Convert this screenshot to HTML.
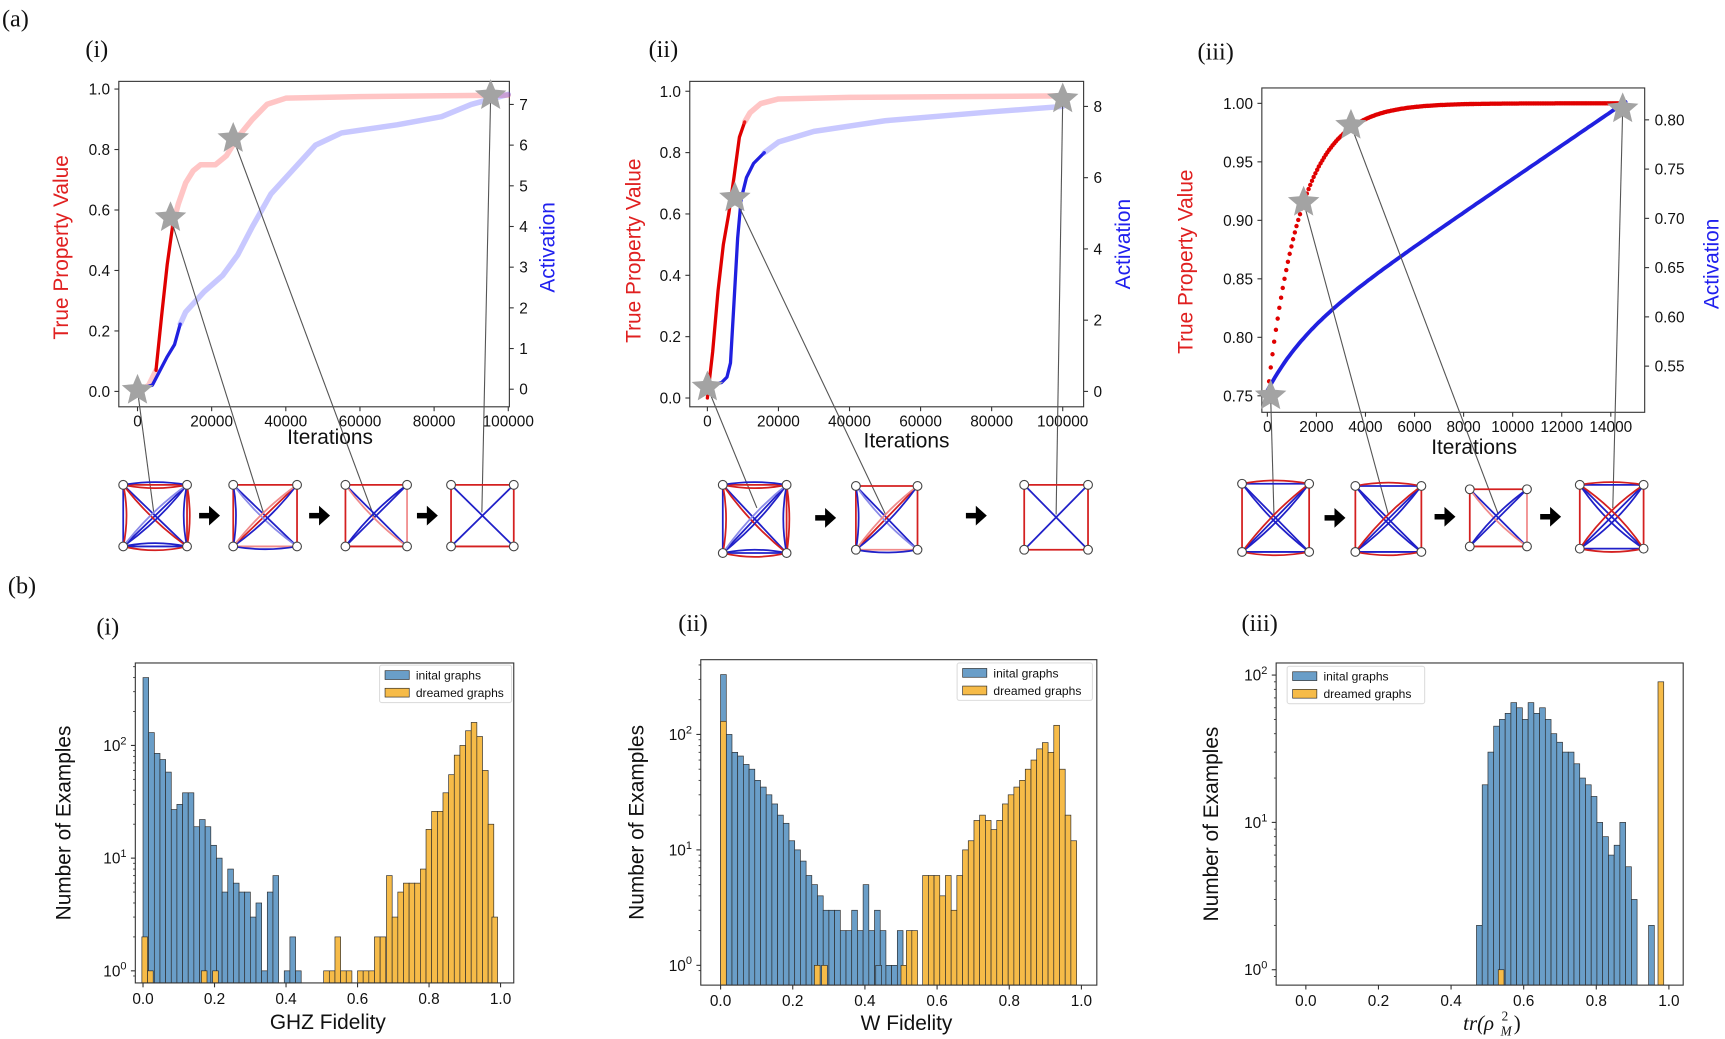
<!DOCTYPE html>
<html><head><meta charset="utf-8"><style>
html,body{margin:0;padding:0;background:#fff;overflow:hidden}
svg{display:block}
</style></head><body>
<div id="c"></div>
<script>
var S=[];
function P(s){S.push(s);}
var SANS='font-family="Liberation Sans, DejaVu Sans, sans-serif"';
var SERIF='font-family="Liberation Serif, serif"';
function txt(x,y,s,size,opt){opt=opt||{};P('<text x="'+x+'" y="'+y+'" font-size="'+size+'" '+(opt.serif?SERIF:SANS)+' fill="'+(opt.fill||'#111')+'" text-anchor="'+(opt.anchor||'middle')+'"'+(opt.rot?' transform="rotate(-90 '+x+' '+y+')"':'')+'>'+s+'</text>');}
function line(x1,y1,x2,y2,c,w,op){P('<line x1="'+x1+'" y1="'+y1+'" x2="'+x2+'" y2="'+y2+'" stroke="'+c+'" stroke-width="'+w+'"'+(op?' stroke-opacity="'+op+'"':'')+'/>');}
function box(x0,y0,x1,y1){P('<rect x="'+x0+'" y="'+y0+'" width="'+(x1-x0)+'" height="'+(y1-y0)+'" fill="none" stroke="#333" stroke-width="1"/>');}
function poly(pts,c,w,op){P('<polyline points="'+pts.map(function(p){return p[0].toFixed(1)+','+p[1].toFixed(1)}).join(' ')+'" fill="none" stroke="'+c+'" stroke-width="'+w+'" stroke-opacity="'+op+'" stroke-linejoin="round" stroke-linecap="round"/>');}
function star(cx,cy,r){var p=[];for(var i=0;i<10;i++){var a=-Math.PI/2+i*Math.PI/5;var rr=i%2?r*0.45:r;p.push((cx+rr*Math.cos(a)).toFixed(1)+','+(cy+rr*Math.sin(a)).toFixed(1));}P('<polygon points="'+p.join(' ')+'" fill="#a3a3a3"/>');}
function arrow(x,y){P('<rect x="'+(x-9)+'" y="'+(y-2.5)+'" width="10" height="5" fill="#000"/><polygon points="'+(x)+','+(y-9)+' '+(x+10)+','+y+' '+x+','+(y+9)+'" fill="#000"/>');}
function graph(x0,y0,x1,y1,k){
 var c=[[x0,y0],[x1,y0],[x0,y1],[x1,y1]];
 var R='#d42020',B='#2020c8',LR='#f08a8a',LB='#8a8ae8';
 function arc(a,b,off,col,w){var mx=(a[0]+b[0])/2,my=(a[1]+b[1])/2;var dx=b[0]-a[0],dy=b[1]-a[1];var L=Math.hypot(dx,dy);var nx=-dy/L,ny=dx/L;P('<path d="M'+a[0]+','+a[1]+' Q'+(mx+nx*off)+','+(my+ny*off)+' '+b[0]+','+b[1]+'" fill="none" stroke="'+col+'" stroke-width="'+w+'"/>');}
 var sets=[
  [[0,1,0,R],[0,1,6,R],[0,1,-5,B],[2,3,0,B],[2,3,7,R],[2,3,-6,B],[0,2,0,B],[0,2,-6,R],[1,3,0,R],[1,3,6,B],[1,3,-5,R],[0,3,0,B],[1,2,0,B],[0,3,6,R],[1,2,-6,B],[1,2,6,LB]],
  [[0,1,0,R],[2,3,0,LR],[2,3,5,B],[0,2,0,R],[0,2,-5,B],[1,3,0,R],[0,3,0,B],[1,2,0,R],[0,3,6,LB],[1,2,-6,B],[1,2,6,LR]],
  [[0,1,0,R],[2,3,0,R],[0,2,0,R],[1,3,0,LR],[0,3,0,B],[1,2,0,B],[0,3,6,LR],[1,2,6,B]],
  [[0,1,0,R],[2,3,0,R],[0,2,0,R],[1,3,0,R],[0,3,0,B],[1,2,0,B]],
  [[0,1,0,B],[2,3,0,B],[0,2,0,R],[1,3,0,R],[0,3,0,B],[1,2,0,B],[0,3,6,B],[1,2,-6,B],[1,2,6,R],[0,1,-6,R],[2,3,6,R]],
  [[0,1,0,B],[0,1,-5,R],[2,3,0,B],[2,3,6,R],[0,3,0,B],[1,2,0,B],[0,3,8,B],[1,2,-8,B],[1,2,8,R],[0,3,-8,R],[0,2,0,R],[1,3,0,R]]
 ][k];
 sets.forEach(function(e){arc(c[e[0]],c[e[1]],e[2],e[3],1.6);});
 c.forEach(function(p){P('<circle cx="'+p[0]+'" cy="'+p[1]+'" r="4" fill="#fff" stroke="#444" stroke-width="1"/>');});
}
function curve(pts,X,Y,c,w,op){poly(pts.map(function(p){return [X(p[0]),Y(p[1])]}),c,w,op);}

/* ===== (a)(i) ===== */
txt(14,24,'(a)',22,{serif:1});txt(88,52,'(i)',22,{serif:1});
(function(){
var X=function(t){return 125+0.00337*t},YL=function(v){return 356-275*v},YR=function(a){return 354-37*a};
box(108,74,463,370);
[0,0.2,0.4,0.6,0.8,1.0].forEach(function(v){line(104,YL(v),108,YL(v),'#333',1);txt(100,YL(v)+5,v.toFixed(1),14,{anchor:'end'});});
[0,1,2,3,4,5,6,7].forEach(function(a){line(463,YR(a),467,YR(a),'#333',1);txt(472,YR(a)+5,''+a,14,{anchor:'start'});});
[0,20000,40000,60000,80000,100000].forEach(function(t){line(X(t),370,X(t),374,'#333',1);txt(X(t),388,''+t,14);});
txt(300,404,'Iterations',19);
txt(62,225,'True Property Value',19,{rot:1,fill:'#e02020'});
txt(504,225,'Activation',19,{rot:1,fill:'#2020ee'});
curve([[0,0],[3000,0.02],[5000,0.07]],X,YL,'#ff6060',5,0.35);
curve([[5000,0.07],[6500,0.25],[8000,0.42],[9500,0.55]],X,YL,'#e00000',3,1);
curve([[9500,0.55],[11000,0.62],[13000,0.69],[15000,0.73],[17000,0.75],[21000,0.75],[24000,0.78],[27000,0.84],[31000,0.9],[35000,0.95],[40000,0.97],[60000,0.975],[100000,0.98]],X,YL,'#ff5a5a',5,0.35);
curve([[0,0],[4000,0.1],[8000,0.8],[10000,1.1],[11500,1.6]],X,YR,'#2020e0',3,1);
curve([[11500,1.6],[13000,1.9],[18000,2.4],[23000,2.8],[27000,3.3],[31000,4.0],[36000,4.8],[42000,5.4],[48000,6.0],[55000,6.3],[70000,6.5],[82000,6.7],[90000,7.0],[100000,7.25]],X,YR,'#4a4aff',5,0.3);
line(125,355,140,468,'#555',1);line(155,198,240,468,'#555',1);line(212,126,340,470,'#555',1);line(446,87,438,466,'#555',1);
star(125,355,15);star(155,198,15);star(212,126,15);star(446,87,15);
graph(112,441,170,497,0);arrow(190,469);graph(212,441,270,497,1);arrow(290,469);graph(314,441,370,497,2);arrow(388,469);graph(410,441,467,497,3);
})();

/* ===== (a)(ii) ===== */
txt(603,52,'(ii)',22,{serif:1});
(function(){
var X=function(t){return 643+0.00323*t},YL=function(v){return 362-279*v},YR=function(a){return 356-32.4*a};
box(627,74,985,370);
[0,0.2,0.4,0.6,0.8,1.0].forEach(function(v){line(623,YL(v),627,YL(v),'#333',1);txt(619,YL(v)+5,v.toFixed(1),14,{anchor:'end'});});
[0,2,4,6,8].forEach(function(a){line(985,YR(a),989,YR(a),'#333',1);txt(994,YR(a)+5,''+a,14,{anchor:'start'});});
[0,20000,40000,60000,80000,100000].forEach(function(t){line(X(t),370,X(t),374,'#333',1);txt(X(t),388,''+t,14);});
txt(824,407,'Iterations',19);
txt(582,228,'True Property Value',19,{rot:1,fill:'#e02020'});
txt(1027,222,'Activation',19,{rot:1,fill:'#2020ee'});
curve([[0,0],[1500,0.15],[3000,0.35],[4500,0.5],[6000,0.6],[7500,0.72],[9000,0.85],[10500,0.9]],X,YL,'#e00000',3,1);
curve([[10500,0.9],[12000,0.93],[15000,0.96],[20000,0.975],[40000,0.98],[100000,0.985]],X,YL,'#ff5a5a',5,0.35);
curve([[0,0.15],[4000,0.25],[5500,0.4],[6500,0.8],[7500,2.5],[8500,4.3],[9500,5.4],[11000,6.0],[13000,6.4],[16000,6.7]],X,YR,'#2020e0',3,1);
curve([[16000,6.7],[20000,7.0],[30000,7.3],[50000,7.6],[80000,7.85],[100000,8.0]],X,YR,'#4a4aff',5,0.3);
line(643,352,688,462,'#555',1);line(668,180,805,468,'#555',1);line(966,90,960,468,'#555',1);
star(643,352,15);star(668,180,15);star(966,90,15);
graph(657,441,715,503,0);arrow(750,471);graph(778,442,834,500,1);arrow(887,469);graph(931,441,989,500,3);
})();

/* ===== (a)(iii) ===== */
txt(1105,54,'(iii)',22,{serif:1});
(function(){
var X=function(t){return 1152+0.0223*t},YL=function(v){return 360-(v-0.75)*1064},YR=function(a){return 333-(a-0.55)*896};
box(1147,80,1495,375);
[0.75,0.80,0.85,0.90,0.95,1.00].forEach(function(v){line(1143,YL(v),1147,YL(v),'#333',1);txt(1139,YL(v)+5,v.toFixed(2),14,{anchor:'end'});});
[0.55,0.60,0.65,0.70,0.75,0.80].forEach(function(a){line(1495,YR(a),1499,YR(a),'#333',1);txt(1504,YR(a)+5,a.toFixed(2),14,{anchor:'start'});});
for(var t=0;t<=14000;t+=2000){line(X(t),375,X(t),379,'#333',1);txt(X(t),393,''+t,14);}
txt(1340,413,'Iterations',19);
txt(1084,238,'True Property Value',19,{rot:1,fill:'#e02020'});
txt(1562,240,'Activation',19,{rot:1,fill:'#2020ee'});
for(var t=0;t<=14600;t+=70){var v=1-0.25*Math.exp(-t/1370);P('<circle cx="'+X(t).toFixed(1)+'" cy="'+YL(v).toFixed(1)+'" r="2" fill="#e00000"/>');}
var bp=[];for(var t=0;t<=14600;t+=100){bp.push([X(t),YR(0.525+0.000017*t+0.045*(1-Math.exp(-t/1500)))]);}
poly(bp,'#2020e0',3.5,1);
line(1155,360,1158,468,'#555',1);line(1185,184,1262,468,'#555',1);line(1228,114,1362,468,'#555',1);line(1475,99,1466,462,'#555',1);
star(1155,360,15);star(1185,184,15);star(1228,114,15);star(1475,99,15);
graph(1129,440,1190,502,4);arrow(1213,471);graph(1232,442,1292,502,4);arrow(1313,470);graph(1336,445,1388,497,2);arrow(1409,470);graph(1436,441,1494,499,5);
})();

/* ===== (b) histograms ===== */
txt(20,540,'(b)',22,{serif:1});
function hist(cfg){
 var x0=cfg.x0,y0=cfg.y0,x1=cfg.x1,y1=cfg.y1;
 var X=function(u){return cfg.ax+cfg.sx*u};
 var Y=function(n){return cfg.y100+cfg.dec*(2-Math.log10(n))};
 var w=0.0158*cfg.sx;
 function bars(list,col){list.forEach(function(b){if(!b[1])return;var top=Y(b[1]);if(top<y0)top=y0;P('<rect x="'+X(b[0]).toFixed(2)+'" y="'+top.toFixed(2)+'" width="'+w.toFixed(2)+'" height="'+(y1-top).toFixed(2)+'" fill="'+col+'" stroke="#2a2a2a" stroke-width="0.6"/>');});}
 bars(cfg.blue,'#6a9ec8');bars(cfg.orange,'#f6bb48');
 box(x0,y0,x1,y1);
 [0,0.2,0.4,0.6,0.8,1.0].forEach(function(u){line(X(u),y1,X(u),y1+4,'#333',1);txt(X(u),y1+19,u.toFixed(1),14);});
 [0,1,2].forEach(function(e){var y=Y(Math.pow(10,e));line(x0-4,y,x0,y,'#333',1);P('<text x="'+(x0-8)+'" y="'+(y+5)+'" font-size="14" '+SANS+' text-anchor="end" fill="#111">10<tspan dy="-6" font-size="10">'+e+'</tspan></text>');
  for(var m=2;m<10;m++){var ym=Y(m*Math.pow(10,e));if(ym>y0&&ym<y1)line(x0-2,ym,x0,ym,'#333',0.8);}});
 var ym=Y(0.9);if(ym<y1)line(x0-2,ym,x0,ym,'#333',0.8);
 var lx=cfg.lx,ly=cfg.ly;
 P('<rect x="'+lx+'" y="'+ly+'" width="'+cfg.lw+'" height="34" fill="#fff" stroke="#ddd" stroke-width="1" rx="2"/>');
 P('<rect x="'+(lx+5)+'" y="'+(ly+5)+'" width="22" height="8" fill="#6a9ec8" stroke="#2a2a2a" stroke-width="0.6"/>');
 P('<rect x="'+(lx+5)+'" y="'+(ly+21)+'" width="22" height="8" fill="#f6bb48" stroke="#2a2a2a" stroke-width="0.6"/>');
 txt(lx+33,ly+13,'inital graphs',11,{anchor:'start'});txt(lx+33,ly+29,'dreamed graphs',11,{anchor:'start'});
 P('<text x="'+cfg.ylx+'" y="'+((y0+y1)/2)+'" font-size="19" '+SANS+' text-anchor="middle" fill="#111" transform="rotate(-90 '+cfg.ylx+' '+((y0+y1)/2)+')">Number of Examples</text>');
}
function seq(start,vals){return vals.map(function(v,i){return [start+i*0.0158,v];});}
function zx(list){return list.map(function(b){return [(b[0]-370)/950,b[1]];});}

txt(98,577,'(i)',22,{serif:1});
hist({x0:123,y0:603,x1:467,y1:894,ax:130,sx:325,y100:678,dec:102.5,lx:345,ly:605,lw:120,ylx:64,
 blue:seq(0,[400,130,85,75,58,27,30,38,38,19,22,19,13,10,5,8,6,5,5,3,4,1,5,7,0,1,2,1]),
 orange:zx([[367,2],[382,1],[525,1],[555,1],[850,1],[865,1],[880,2],[895,1],[910,1],[940,1],[955,1],[970,1],[985,2],[1000,2],[1017,7],[1032,3],[1047,5],[1062,6],[1077,6],[1092,6],[1107,8],[1122,18],[1137,26],[1152,26],[1167,38],[1182,55],[1197,82],[1212,100],[1227,135],[1242,160],[1257,120],[1272,60],[1287,20],[1297,3]])});
txt(298,936,'GHZ Fidelity',19);

txt(630,574,'(ii)',22,{serif:1});
hist({x0:637,y0:600,x1:997,y1:896,ax:655,sx:328,y100:668,dec:105,lx:870,ly:603,lw:123,ylx:585,
 blue:seq(0,[330,100,70,65,55,50,40,35,30,25,20,17,12,10,8,6,5,4,3,3,3,2,2,3,2,5,2,3,2,1,1,2,1,1,0,0,0,0,0,0]).concat([[0.43,1]]),
 orange:[[0,130]].concat([[0.26,1],[0.28,1],[0.5,1],[0.515,2],[0.53,2]],seq(0.56,[6,6,6,4,6,3,6,10,12,18,20,18,15,18,25,30,35,40,50,60,75,85,70,120,50,20,12]))});
txt(824,937,'W Fidelity',19);

txt(1145,574,'(iii)',22,{serif:1});
hist({x0:1160,y0:603,x1:1530,y1:896,ax:1187,sx:330,y100:614,dec:134,lx:1170,ly:606,lw:125,ylx:1107,
 blue:seq(0.47,[2,18,30,45,50,55,65,60,50,65,55,60,50,40,35,30,30,25,20,18,15,10,8,6,7,10,5,3,0,0,2]),
 orange:[[0.53,1],[0.97,90]]});
P('<text x="1330" y="937" font-size="19" font-family="Liberation Serif, serif" font-style="italic" fill="#111">tr(ρ</text>');
P('<text x="1364" y="942" font-size="12" font-family="Liberation Serif, serif" font-style="italic" fill="#111">M</text>');
P('<text x="1365" y="928" font-size="12" font-family="Liberation Serif, serif" fill="#111">2</text>');
P('<text x="1376" y="937" font-size="19" font-family="Liberation Serif, serif" fill="#111">)</text>');

document.getElementById('c').innerHTML='<svg xmlns="http://www.w3.org/2000/svg" width="1725" height="1039" viewBox="0 0 1568 945" preserveAspectRatio="none">'+S.join('')+'</svg>';
</script>
</body></html>
